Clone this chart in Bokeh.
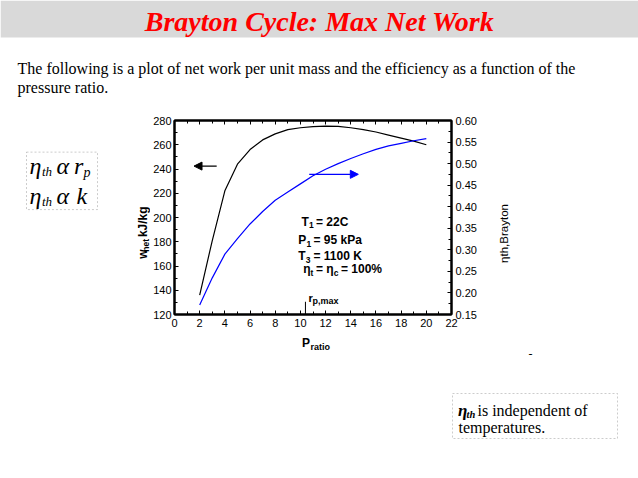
import math
from bokeh.plotting import figure
from bokeh.layouts import column, row
from bokeh.models import (Range1d, LinearAxis, FixedTicker, Label, BoxAnnotation,
                          Arrow, NormalHead, NumeralTickFormatter)
from bokeh.embed import file_html
from bokeh.resources import INLINE

# ---------------- data ----------------
p_ratio = [2, 3, 4, 5, 6, 7, 8, 9, 10, 11, 12, 13, 14, 15, 16, 17, 18, 19, 20]
w_net = [136, 181, 222, 244, 256, 264, 269, 272.5, 274, 275, 275.3, 275.2, 274,
         272.5, 270.5, 268, 265.5, 263, 260]
eta_th = [0.172, 0.235, 0.290, 0.326, 0.360, 0.389, 0.415, 0.434, 0.453, 0.472,
          0.487, 0.500, 0.512, 0.523, 0.533, 0.541, 0.547, 0.553, 0.558]
rp_max = 10.4
x_ticks = list(range(0, 23, 2))
w_ticks = list(range(120, 281, 20))
eta_ticks = [0.15, 0.20, 0.25, 0.30, 0.35, 0.40, 0.45, 0.50, 0.55, 0.60]

SERIF = "Liberation Serif"
SANS = "Liberation Sans"
BASE_FIX = 0.25      # em shift so that the given y is the text baseline

# ---------------- page layout (page px) ----------------
PAGE_W = 638
TOP_H = 100          # title bar + paragraph
MID_H = 233          # chart row
BOT_H = 143
LEFT_W = 150
CHART_W = 340
RIGHT_W = PAGE_W - LEFT_W - CHART_W
FRAME_L, FRAME_T, FRAME_R, FRAME_B = 173, 120, 451, 314   # plot frame in page px


def deco(x0, y0, w, h):
    """A blank figure whose data coordinates equal page pixels."""
    f = figure(width=w, height=h, output_backend="svg", toolbar_location=None,
               x_range=Range1d(x0, x0 + w), y_range=Range1d(y0 + h, y0),
               min_border=0, x_axis_location=None, y_axis_location=None,
               outline_line_color=None, background_fill_color="white",
               border_fill_color="white")
    f.grid.visible = False
    return f


def dtxt(f, px, py, text, size, font=SANS, style="normal", color="black",
         align="left", angle=0.0):
    if angle:
        px -= BASE_FIX * size
    else:
        py -= BASE_FIX * size
    f.add_layout(Label(x=px, y=py, text=text, text_font=font,
                       text_font_size=f"{size}px", text_font_style=style,
                       text_color=color, text_align=align,
                       text_baseline="alphabetic", angle=angle))


def dbox(f, l, t, r, b, **kw):
    f.add_layout(BoxAnnotation(left=l, right=r, top=t, bottom=b, **kw))


# ---------------- top: title bar + paragraph ----------------
top = deco(0, 0, PAGE_W, TOP_H)
dbox(top, 0, 0, PAGE_W, 37, fill_color="#d9d9d9", fill_alpha=1, line_alpha=0)
dtxt(top, 319, 28, "Brayton Cycle: Max Net Work", 28, font=SERIF,
     style="bold italic", color="#ff0000", align="center")
dtxt(top, 17, 71.7,
     "The following is a plot of net work per unit mass and the efficiency as a function of the",
     16, font=SERIF)
dtxt(top, 17, 91, "pressure ratio.", 16, font=SERIF)

# ---------------- left: formula box + y label ----------------
left = deco(0, TOP_H, LEFT_W, MID_H)
dbox(left, 26, 138, 97, 207, fill_alpha=0, line_color="#555555", line_width=1,
     line_dash="2 2")
dtxt(left, 29, 161, "η", 24, font=SERIF, style="italic")
dtxt(left, 41.5, 164, "th", 13, font=SERIF, style="italic")
dtxt(left, 56, 161, "α", 24, font=SERIF, style="italic")
dtxt(left, 73.5, 161, "r", 24, font=SERIF, style="italic")
dtxt(left, 83, 165.5, "p", 14, font=SERIF, style="italic")
dtxt(left, 29, 197, "η", 24, font=SERIF, style="italic")
dtxt(left, 41.5, 200, "th", 13, font=SERIF, style="italic")
dtxt(left, 56, 197, "α", 24, font=SERIF, style="italic")
dtxt(left, 76, 197, "k", 24, font=SERIF, style="italic")
dtxt(left, 145, 266, "w", 12, style="bold", angle=math.pi / 2)
dtxt(left, 147.5, 257.5, "net", 8.5, style="bold", angle=math.pi / 2)
dtxt(left, 145, 240, "kJ/kg", 12, style="bold", angle=math.pi / 2)

# ---------------- right: eta label ----------------
right = deco(LEFT_W + CHART_W, TOP_H, RIGHT_W, MID_H)
dtxt(right, 506, 271, "ηth,Brayton", 11.5, angle=math.pi / 2)

# ---------------- bottom: x label, note box ----------------
bot = deco(0, TOP_H + MID_H, PAGE_W, BOT_H)
dtxt(bot, 301.5, 345, "P", 12, style="bold")
dtxt(bot, 310, 348.5, "ratio", 9, style="bold")
dtxt(bot, 530, 356, "-", 12, font=SERIF, align="center")
dbox(bot, 452, 393, 617, 438, fill_alpha=0, line_color="#555555", line_width=1,
     line_dash="2 2")
dtxt(bot, 457.5, 414, "η", 17, font=SERIF, style="bold italic")
dtxt(bot, 466, 417, "th", 10.5, font=SERIF, style="bold italic")
dtxt(bot, 477, 414, "is independent of", 16, font=SERIF)
dtxt(bot, 458, 431, "temperatures.", 16, font=SERIF)

# ---------------- chart ----------------
p = figure(width=CHART_W, height=MID_H, output_backend="svg", toolbar_location=None,
           x_range=Range1d(0, 22), y_range=Range1d(120, 280),
           min_border_left=FRAME_L - LEFT_W,
           min_border_right=LEFT_W + CHART_W - FRAME_R,
           min_border_top=FRAME_T - TOP_H,
           min_border_bottom=TOP_H + MID_H - FRAME_B,
           background_fill_color="white", border_fill_color="white")
p.grid.visible = False
p.outline_line_color = "black"
p.outline_line_width = 2
p.extra_y_ranges = {"eta": Range1d(0.15, 0.60)}


def style_axis(ax, labels=True):
    ax.axis_line_width = 2
    ax.axis_line_color = "black"
    ax.major_tick_in = 4
    ax.major_tick_out = 0
    ax.minor_tick_in = 3
    ax.minor_tick_out = 0
    ax.major_tick_line_width = 1
    ax.minor_tick_line_width = 1
    ax.major_label_text_font = SANS
    ax.major_label_text_font_size = "11px"
    ax.major_label_text_color = "black"
    ax.major_label_standoff = 4
    if not labels:
        ax.major_label_text_alpha = 0
        ax.major_label_text_font_size = "1px"
        ax.major_label_standoff = 0


xa = p.xaxis[0]
xa.ticker = FixedTicker(ticks=x_ticks, minor_ticks=list(range(1, 22, 2)))
style_axis(xa)
ya = p.yaxis[0]
ya.ticker = FixedTicker(ticks=w_ticks, minor_ticks=list(range(130, 280, 20)))
style_axis(ya)
ya.major_label_standoff = 3

ra = LinearAxis(y_range_name="eta")
ra.ticker = FixedTicker(ticks=eta_ticks,
                        minor_ticks=[round(t + 0.025, 3) for t in eta_ticks[:-1]])
ra.formatter = NumeralTickFormatter(format="0.00")
style_axis(ra)
p.add_layout(ra, "right")

ta = LinearAxis()
ta.ticker = FixedTicker(ticks=x_ticks, minor_ticks=list(range(1, 22, 2)))
style_axis(ta, labels=False)
p.add_layout(ta, "above")

p.line(p_ratio, w_net, line_color="black", line_width=1.2)
p.line(p_ratio, eta_th, line_color="#0000ff", line_width=1.2, y_range_name="eta")

p.add_layout(Arrow(x_start=3.35, y_start=242.4, x_end=1.55, y_end=242.4,
                   line_color="black", line_width=1.2,
                   end=NormalHead(size=8, fill_color="black", line_color="black")))
p.add_layout(Arrow(x_start=10.7, y_start=235.6, x_end=14.6, y_end=235.6,
                   line_color="#0000ff", line_width=1.2,
                   end=NormalHead(size=8, fill_color="#0000ff", line_color="#0000ff")))
p.segment(x0=[rp_max], y0=[120], x1=[rp_max], y1=[130.5], line_color="black",
          line_width=1)


def ctxt(px, py, text, size, style="bold"):
    # screen units are measured from the frame's bottom-left corner
    py -= BASE_FIX * size
    p.add_layout(Label(x=px - FRAME_L, y=FRAME_B - py, x_units="screen",
                       y_units="screen", text=text, text_font=SANS,
                       text_font_size=f"{size}px", text_font_style=style,
                       text_color="black", text_align="left",
                       text_baseline="alphabetic"))


ctxt(300, 224, "T", 12)
ctxt(307.5, 227, "1", 8.5)
ctxt(314.5, 224, "= 22C", 12)
ctxt(296.7, 242.7, "P", 12)
ctxt(305, 245.7, "1", 8.5)
ctxt(312, 242.7, "= 95 kPa", 12)
ctxt(296.7, 258.3, "T", 12)
ctxt(304.3, 261.3, "3", 8.5)
ctxt(312, 258.3, "= 1100 K", 12)
ctxt(301.7, 271.5, "η", 12)
ctxt(309, 274.5, "t", 8.5)
ctxt(314.5, 271.5, "= η", 12)
ctxt(332.3, 274.5, "c", 8.5)
ctxt(339.5, 271.5, "= 100%", 12)
ctxt(307, 300, "r", 11)
ctxt(311, 303, "p,max", 9)

layout = column(top, row(left, p, right), bot)
open("out.html", "w").write(file_html(layout, INLINE))
